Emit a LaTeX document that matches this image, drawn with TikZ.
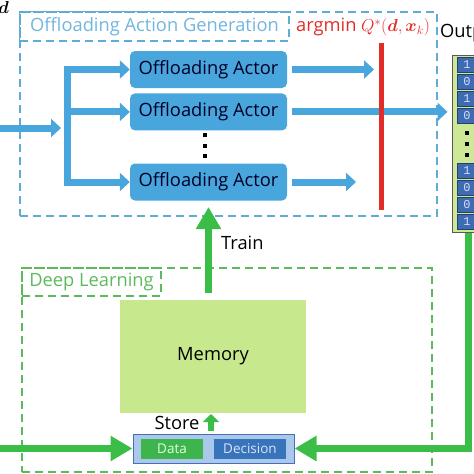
\documentclass[tikz,border=0pt]{standalone}
\usepackage{amsmath}
\usepackage{fontspec}
\setmainfont{Open Sans}
\setmonofont{Liberation Mono}
\usetikzlibrary{arrows.meta, positioning}

\definecolor{actblue}{RGB}{72,166,220}
\definecolor{dashblue}{RGB}{95,172,212}
\definecolor{titleblue}{RGB}{112,182,222}
\definecolor{argred}{RGB}{226,44,40}
\definecolor{arrgreen}{RGB}{58,190,72}
\definecolor{dlgreen}{RGB}{92,186,92}
\definecolor{memgreen}{RGB}{200,232,142}
\definecolor{vecgreen}{RGB}{206,232,152}
\definecolor{cellblue}{RGB}{62,108,178}
\definecolor{buffill}{RGB}{170,200,236}
\definecolor{bufline}{RGB}{72,110,180}
\definecolor{datagreen}{RGB}{62,180,76}
\definecolor{decblue}{RGB}{56,116,186}

\begin{document}
\begin{tikzpicture}[
    x=1pt, y=-1pt,
    font=\fontsize{18.3}{21}\selectfont,
    genbox/.style={draw=dashblue, line width=1.5pt, dash pattern=on 8pt off 5pt, inner sep=0pt},
    dlbox/.style={draw=dlgreen, line width=1.5pt, dash pattern=on 8pt off 5pt, inner sep=0pt},
    actor/.style={rectangle, fill=actblue, rounded corners=5pt, minimum width=157pt, minimum height=37pt, text=black!85!blue},
    cell/.style={rectangle, fill=cellblue, draw=cellblue!60!black, line width=0.4pt, minimum width=20pt, minimum height=15pt, inner sep=0pt, font=\fontsize{12}{13}\ttfamily, text=white!85!blue},
    barrow/.style={actblue, line width=7pt, -{Triangle[length=10pt,width=18pt]}},
    garrow/.style={arrgreen, line width=7pt, -{Triangle[length=22pt,width=24pt]}},
    redline/.style={argred, line width=5pt}
]
\useasboundingbox (0,0) rectangle (474,474);

% Offloading action generation
\node[genbox, minimum width=417pt, minimum height=204pt] (gen) at (228.5,114) {};
\node[genbox, minimum width=269pt, minimum height=29pt, text=titleblue] (gentitle) at (154.5,26.5) {Offloading Action Generation};
\draw[dashblue, line width=1.5pt] (gentitle.south west) -- (gentitle.north west) -- (gentitle.north east);
\node[text=argred, inner sep=0pt] (argmin) at (363,27) {argmin $Q^{*}(\boldsymbol{d},\boldsymbol{x}_k)$};
\node[anchor=west, inner sep=0pt] (outlbl) at (440,33) {Output};
\node[anchor=east, inner sep=0pt] (dlbl) at (9,7) {$\boldsymbol{d}$};

% Actors
\node[actor] (act1) at (208.5,69.5) {Offloading Actor};
\node[actor, below=5pt of act1] (act2) {Offloading Actor};
\node[actor] (act3) at (208.5,182) {Offloading Actor};
\foreach \y in {133,144,154} \fill (203,\y) rectangle +(4,4);

% Input and branches
\coordinate (inp) at (0,128);
\coordinate (split) at (61,128);
\coordinate (bar) at (63.5,128);
\draw[barrow] (inp) -- (split);
\draw[actblue, line width=7pt] (67,66) -- (67,185.5);
\foreach \a in {act1,act2,act3}
    \draw[barrow] (\a.west -| bar) -- (\a.west);

% Output vector
\node[rectangle, fill=vecgreen, draw=black!65, line width=1pt, minimum width=32pt, minimum height=177pt] (vec) at (468,143.5) {};
\foreach \v/\y in {1/65,0/82,1/99,0/116,1/171,0/188,0/205,1/222}
    \node[cell] (c\y) at (467,\y) {\v};
\foreach \y in {131,142,153} \fill (465,\y) rectangle +(4,4);

% Outputs of actors
\coordinate (out1) at (374,69.5);
\coordinate (out3) at (356,182);
\draw[barrow] ([xshift=5pt]act1.east) -- (out1);
\draw[barrow] ([xshift=5pt]act2.east) -- ([xshift=-4pt]act2.east -| vec.west);
\draw[barrow] ([xshift=5pt]act3.east) -- (out3);
\coordinate (rtop) at (381,43);
\coordinate (rbot) at (381,210);
\draw[redline] (rtop) -- (rbot);

% Deep learning
\node[dlbox, minimum width=410pt, minimum height=204pt] (dl) at (227,370) {};
\node[dlbox, minimum width=139pt, minimum height=28pt, text=dlgreen] (dltitle) at (91.5,282) {Deep Learning};
\node[rectangle, fill=memgreen, minimum width=186pt, minimum height=113pt] (mem) at (213,356.5) {Memory};

% Replay buffer
\node[rectangle, fill=buffill, draw=bufline, line width=1pt, minimum width=161pt, minimum height=29pt] (buf) at (213.5,448.5) {};
\node[rectangle, fill=datagreen, minimum width=62pt, minimum height=20pt, inner sep=0pt, font=\fontsize{13.5}{15}\selectfont, text=white!88!green] (data) at (172,448.5) {Data};
\node[rectangle, fill=decblue, minimum width=72pt, minimum height=20pt, inner sep=0pt, font=\fontsize{13.5}{15}\selectfont, text=white!88!blue] (dec) at (250,448.5) {Decision};
\node[inner sep=0pt] (storelbl) at (177,423) {Store};
\coordinate (stbot) at (211,431);
\coordinate (sttop) at (211,414);
\draw[arrgreen, line width=6pt, -{Triangle[length=8pt,width=16pt]}] (stbot) -- (sttop);

% Green arrows
\coordinate (trainstart) at (208.5,293);
\coordinate (trainend) at (208.5,207);
\draw[garrow] (trainstart) -- (trainend);
\node[anchor=west, inner sep=0pt] (trainlbl) at (221,243) {Train};
\coordinate (din) at (0,448.5);
\draw[garrow] (din) -- (buf.west);
\draw[garrow] (vec.south) |- (buf.east);

\end{tikzpicture}
\end{document}
